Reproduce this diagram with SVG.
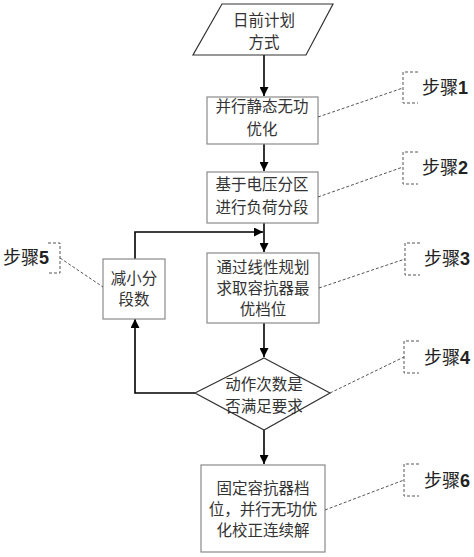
<svg xmlns="http://www.w3.org/2000/svg" width="474" height="557" viewBox="0 0 474 557">
<defs>
<marker id="ah" viewBox="0 0 10 10" refX="10" refY="5" markerWidth="9" markerHeight="9" markerUnits="userSpaceOnUse" orient="auto">
<path d="M0,0 L10,5 L0,10 z" fill="#000"/>
</marker>
</defs>
<style>
.box{fill:#fff;stroke:#8a8a8a;stroke-width:1.2}
.t{font-family:"Noto Sans CJK SC","Liberation Sans",sans-serif;font-size:15.5px;fill:#333;text-anchor:middle}
.s{font-family:"Noto Sans CJK SC","Liberation Sans",sans-serif;font-size:18px;fill:#222}
.s tspan{font-family:"Liberation Sans",sans-serif;font-weight:bold}
.c{fill:none;stroke:#000;stroke-width:1.6}
.d{fill:none;stroke:#555;stroke-width:1;stroke-dasharray:3,2}
</style>
<rect width="474" height="557" fill="#fff"/>
<g id="connectors">
<path class="c" d="M264,55 V96" marker-end="url(#ah)"/>
<path class="c" d="M264,144 V171" marker-end="url(#ah)"/>
<path class="c" d="M264,223 V252" marker-end="url(#ah)"/>
<path class="c" d="M264,323 V357" marker-end="url(#ah)"/>
<path class="c" d="M264,430 V464" marker-end="url(#ah)"/>
<path class="c" d="M195,393 H135 V319" marker-end="url(#ah)"/>
<path class="c" d="M135,259 V232 H263" marker-end="url(#ah)"/>
</g>
<g id="n0">
<polygon class="box" points="222,4 333,4 306,55 193,55" style="stroke:#333"/>
<text class="t" x="264" y="26">日前计划</text>
<text class="t" x="264" y="48">方式</text>
</g>
<g id="n1">
<rect class="box" x="207" y="97" width="111" height="47"/>
<text class="t" x="262" y="112">并行静态无功</text>
<text class="t" x="262" y="135">优化</text>
</g>
<g id="n2">
<rect class="box" x="207" y="172" width="111" height="51"/>
<text class="t" x="262" y="190">基于电压分区</text>
<text class="t" x="262" y="213">进行负荷分段</text>
</g>
<g id="n3">
<rect class="box" x="207" y="253" width="112" height="70"/>
<text class="t" x="263" y="273">通过线性规划</text>
<text class="t" x="263" y="294">求取容抗器最</text>
<text class="t" x="263" y="315">优档位</text>
</g>
<g id="n4">
<polygon class="box" points="264,358 330,393 264,430 195,393" style="stroke:#333"/>
<text class="t" x="264" y="390">动作次数是</text>
<text class="t" x="264" y="412">否满足要求</text>
</g>
<g id="n5">
<rect class="box" x="103" y="259" width="62" height="60"/>
<text class="t" x="134" y="284">减小分</text>
<text class="t" x="134" y="305">段数</text>
</g>
<g id="n6">
<rect class="box" x="201" y="465" width="124" height="87"/>
<text class="t" x="263" y="494">固定容抗器档</text>
<text class="t" x="263" y="515">位，并行无功优</text>
<text class="t" x="263" y="536">化校正连续解</text>
</g>
<g id="steps">
<path class="d" d="M418,72 H403 V103 H418"/>
<path class="d" d="M318,117 L403,88"/>
<text class="s" x="422" y="94">步骤<tspan>1</tspan></text>
<path class="d" d="M418,152 H403 V184 H418"/>
<path class="d" d="M318,197 L403,167"/>
<text class="s" x="422" y="174">步骤<tspan>2</tspan></text>
<path class="d" d="M420,243 H405 V275 H420"/>
<path class="d" d="M319,288 L405,259"/>
<text class="s" x="424" y="265">步骤<tspan>3</tspan></text>
<path class="d" d="M419,341 H404 V373 H419"/>
<path class="d" d="M330,393 L404,357"/>
<text class="s" x="424" y="364">步骤<tspan>4</tspan></text>
<path class="d" d="M48,243 H60 V273 H48"/>
<path class="d" d="M60,258 L103,287"/>
<text class="s" x="3" y="264">步骤<tspan>5</tspan></text>
<path class="d" d="M419,464 H404 V496 H419"/>
<path class="d" d="M325,510 L404,480"/>
<text class="s" x="424" y="487">步骤<tspan>6</tspan></text>
</g>
</svg>
